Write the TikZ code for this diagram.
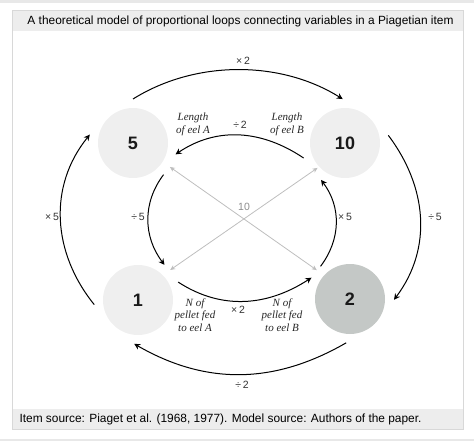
\documentclass[tikz,border=0pt]{standalone}
\usepackage{fontspec}
\setmainfont{Liberation Sans}
\newfontfamily\eelfont{Liberation Serif}
\usetikzlibrary{arrows.meta}
\definecolor{framegray}{HTML}{D8D8D8}
\definecolor{bargray}{HTML}{EDEDED}
\definecolor{circlight}{HTML}{EFEFEF}
\definecolor{circdark}{HTML}{C4C8C6}
\definecolor{crossgray}{HTML}{BEBEBE}
\begin{document}
\begin{tikzpicture}[x=1pt,y=1pt,
  val/.style={circle,minimum size=70pt,inner sep=0pt,outer sep=9pt,font=\fontsize{18}{18}\selectfont\bfseries,text=black!90},
  op/.style={font=\fontsize{10.5}{12}\selectfont,text=black!80},
  eel/.style={align=center,font=\fontsize{11}{12.5}\selectfont\eelfont\itshape,text=black!85},
  arr/.style={line width=1pt,-{Stealth[length=6pt,width=6pt,inset=2pt]}},
  cross/.style={crossgray,line width=0.8pt,{Stealth[length=5pt,width=4.5pt,inset=1.5pt]}-{Stealth[length=5pt,width=4.5pt,inset=1.5pt]}}]
\useasboundingbox (0,0) rectangle (474,-441);
\fill[framegray!60] (0,0) rectangle (474,-3);
\fill[framegray!60] (0,-439) rectangle (474,-441);
\draw[framegray,line width=1pt] (12,-11) rectangle (463,-429);
\fill[bargray] (12.5,-11.5) rectangle (462.5,-31);
\fill[bargray] (12.5,-409) rectangle (462.5,-428.5);
\node[font=\fontsize{11.9}{13}\selectfont] (title) at (240.5,-21.5) {A theoretical model of proportional loops connecting variables in a Piagetian item};
\node[anchor=west,font=\fontsize{11.9}{13}\selectfont] (source) at (16,-419) {Item source: Piaget et al. (1968, 1977). Model source: Authors of the paper.};
% the four values
\node[val,fill=circlight] (v5) at (133,-143) {5};
\node[val,fill=circlight] (v10) at (345,-143) {10};
\node[val,fill=circlight] (v1) at (138,-300) {1};
\node[val,fill=circdark] (v2) at (350,-299) {2};
% diagonals
\draw[cross] (v5.-33) -- (v2.139);
\draw[cross,shorten <=-7pt] (v10.221) -- (v1.43);
\node[op,text=black!45] (ten) at (244,-207) {10};
% loops
\draw[arr] (v5.90) to[out=32,in=148,looseness=0.9] (v10.93);
\draw[arr] (v10.200) to[out=146,in=34] (v5.345);
\draw[arr] (v1.186) to[out=129,in=231] (v5.169);
\draw[arr] (v5.314) to[out=233,in=127] (v1.53);
\draw[arr] (v2.132) to[out=53,in=-53] (v10.237);
\draw[arr] (v10.10) to[out=-53,in=53] (v2.-1);
\draw[arr] (v1.24) to[out=-33,in=213] (v2.151);
\draw[arr] (v2.265) to[out=210,in=-30] (v1.265);
% operators
\node[op] (mtop) at (243,-61) {×\,2};
\node[op] (dtop) at (240,-125) {÷\,2};
\node[op] (mleft) at (52,-217) {×\,5};
\node[op] (dleft) at (138,-217) {÷\,5};
\node[op] (mright) at (345,-217) {×\,5};
\node[op] (dright) at (435,-217) {÷\,5};
\node[op] (mbot) at (238,-310) {×\,2};
\node[op] (dbot) at (242,-385) {÷\,2};
% variable names
\node[eel] (lenA) at (193,-124.5) {Length\\of eel A};
\node[eel] (lenB) at (287,-124.5) {Length\\of eel B};
\node[eel] (pelA) at (195,-315) {N of\\pellet fed\\to eel A};
\node[eel] (pelB) at (282,-315) {N of\\pellet fed\\to eel B};
\end{tikzpicture}
\end{document}
